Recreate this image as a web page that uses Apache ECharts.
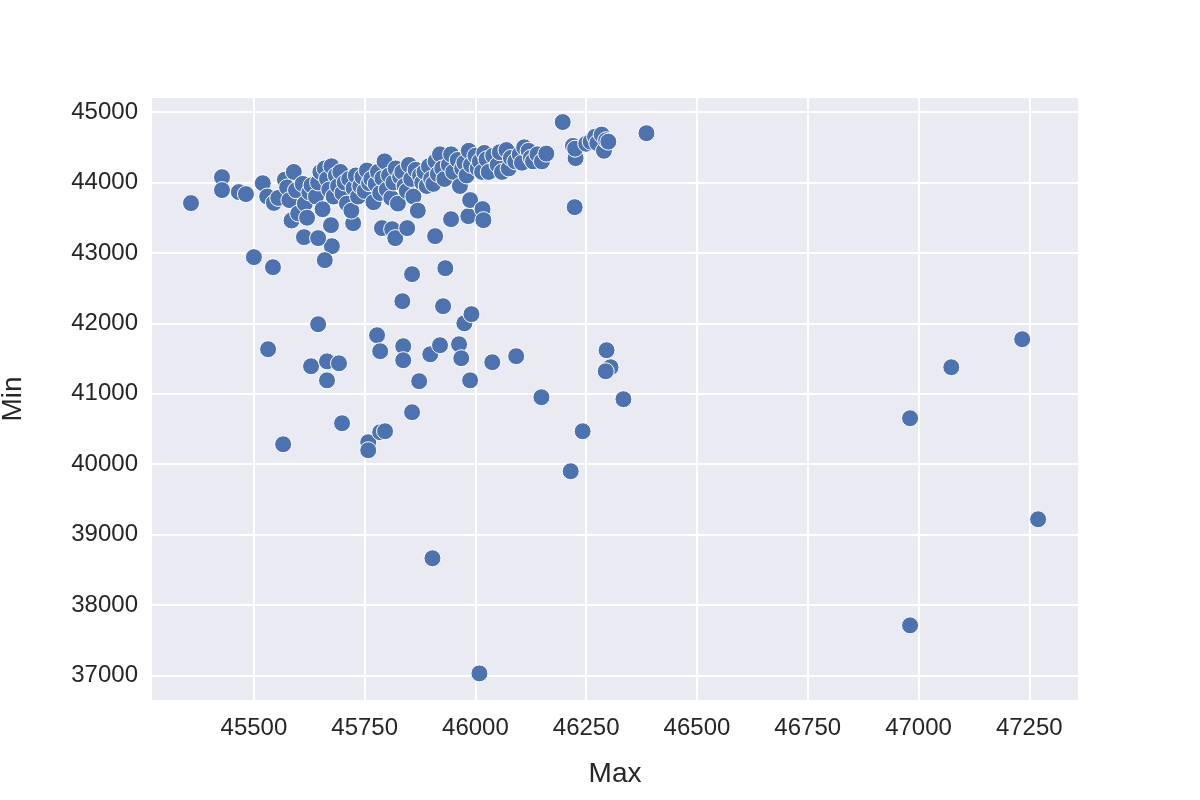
<!DOCTYPE html>
<html>
<head>
<meta charset="utf-8">
<script src="https://cdn.jsdelivr.net/npm/echarts@6/dist/echarts.min.js"></script>
<style>html,body{margin:0;padding:0;background:#fff}#chart{width:1200px;height:800px}</style>
</head>
<body>
<div id="chart"></div>
<script>
// Max / Min scatter data
var maxValues = [
    45358,45428,45428,45466,45482,45500,45543,45532,45566,45645,45629,45665,45665,45692,45699,45758,45758,
    45778,45785,45785,45796,45835,45837,45837,45857,45857,45873,45898,45903,45909,45920,45927,45932,45945,
    45963,45968,45975,45991,45988,45984,45988,46009,46016,46018,46038,46092,46149,46215,46224,46242,46296,
    46305,46294,46334,46981,46981,47074,47234,47270,45724,45676,45660,45613,45645,45674,45586,45789,45812,
    45819,45846,46197,46386,46226,
    45520,45530,45545,45555,45570,45575,45580,45585,45590,45595,45600,45610,45615,45620,45625,45630,45640,
    45645,45650,45655,45660,45665,45670,45675,45680,45685,45690,45695,45700,45705,45710,45715,45720,45725,
    45730,45735,45740,45745,45750,45755,45760,45765,45770,45775,45780,45785,45790,45795,45800,45805,45810,
    45815,45820,45825,45830,45835,45840,45845,45850,45855,45860,45865,45870,45875,45880,45885,45890,45895,
    45900,45905,45910,45915,45920,45925,45930,45940,45945,45950,45960,45965,45970,45975,45980,45985,45990,
    46000,46005,46010,46015,46020,46025,46030,46040,46050,46055,46060,46070,46075,46080,46090,46100,46105,
    46110,46120,46125,46130,46140,46150,46160,46220,46225,46250,46260,46270,46275,46285,46290,46295,46300
];
var minValues = [
    43707,44076,43892,43864,43835,42940,42797,41632,40282,41987,41390,41460,41190,41432,40581,40311,40197,
    41831,41604,40453,40467,42314,41675,41476,40737,42698,41178,41560,38663,43238,41689,42243,42783,43479,
    41703,41504,42000,42130,41190,43522,43750,37028,43622,43465,41447,41533,40950,39899,43650,40467,41618,
    41376,41319,40922,40652,37710,41376,41774,39217,43422,43096,42897,43224,43210,43394,43479,43352,43337,
    43210,43352,44858,44700,44346,
    43990,43800,43710,43780,44040,43930,43750,43460,44150,43890,43560,43980,43700,43500,43860,43960,43800,
    44000,44150,43620,44200,44050,43900,44230,43800,44100,43950,44150,43850,44000,43700,44050,43600,43920,
    44100,43800,43950,44080,43880,44170,43990,44050,43720,43980,44150,43850,44060,44300,43900,44100,43780,
    44000,44200,43700,44080,44150,43950,43880,44250,44050,43800,44180,43600,44100,44000,44150,43950,44230,
    44050,43980,44300,44120,44400,44200,44050,44250,44400,44150,44320,43950,44200,44280,44100,44450,44250,
    44380,44200,44300,44150,44420,44330,44150,44380,44250,44430,44150,44460,44200,44350,44300,44400,44280,
    44500,44450,44350,44300,44400,44300,44410,44520,44480,44550,44580,44650,44560,44680,44450,44600,44580
];
var xTickLabels = [45500, 45750, 46000, 46250, 46500, 46750, 47000, 47250];
var yTickLabels = [37000, 38000, 39000, 40000, 41000, 42000, 43000, 44000, 45000];

var points = [];
for (var i = 0; i < maxValues.length; i++) {
    points.push([maxValues[i], minValues[i]]);
}
// gridlines at the tick values, drawn through the axes
var gridLines = [];
xTickLabels.forEach(function (v) { gridLines.push({ xAxis: v }); });
yTickLabels.forEach(function (v) { gridLines.push({ yAxis: v }); });

var myChart = echarts.init(document.getElementById('chart'));
var font = 'Liberation Sans';
var option = {
    animation: false,
    grid: {
        left: 152, right: 122, top: 98, bottom: 100,
        outerBoundsMode: 'none', containLabel: false,
        show: true, backgroundColor: '#eaeaf2', borderWidth: 0
    },
    xAxis: {
        type: 'value', min: 45270, max: 47360, interval: 10,
        name: 'Max', nameLocation: 'middle', nameGap: 60,
        nameTextStyle: { fontSize: 28, color: '#262626', fontFamily: font },
        axisLine: { show: false }, axisTick: { show: false }, splitLine: { show: false },
        axisLabel: {
            interval: 0, fontSize: 24, color: '#262626', fontFamily: font, margin: 16,
            formatter: function (v) { return xTickLabels.indexOf(Math.round(v)) >= 0 ? String(Math.round(v)) : ''; }
        }
    },
    yAxis: {
        type: 'value', min: 36650, max: 45200, interval: 50,
        name: 'Min', nameLocation: 'middle', nameGap: 125, nameRotate: 90,
        nameTextStyle: { fontSize: 28, color: '#262626', fontFamily: font },
        axisLine: { show: false }, axisTick: { show: false }, splitLine: { show: false },
        axisLabel: {
            interval: 0, fontSize: 24, color: '#262626', fontFamily: font, margin: 14,
            formatter: function (v) { return yTickLabels.indexOf(Math.round(v)) >= 0 ? String(Math.round(v)) : ''; }
        }
    },
    series: [{
        type: 'scatter', data: [], z: 1,
        markLine: {
            silent: true, symbol: 'none', label: { show: false },
            lineStyle: { color: '#fff', width: 2, type: 'solid' },
            data: gridLines
        }
    }, {
        type: 'scatter', zlevel: 1,
        data: points,
        symbolSize: 17,
        itemStyle: { color: '#4c72b0', borderColor: '#fff', borderWidth: 1, opacity: 1 }
    }]
};
myChart.setOption(option);
</script>
</body>
</html>
